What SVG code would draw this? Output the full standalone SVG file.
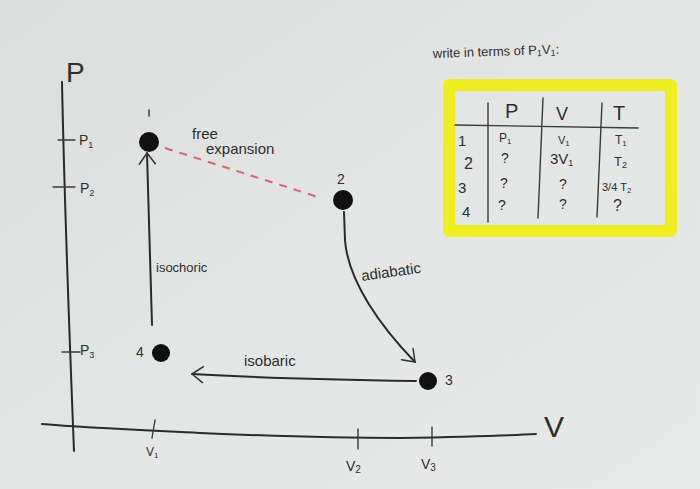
<svg xmlns="http://www.w3.org/2000/svg" width="700" height="489" viewBox="0 0 700 489">
<defs>
<linearGradient id="bg" x1="0" y1="0" x2="1" y2="1">
<stop offset="0" stop-color="#dcdedd"/>
<stop offset="0.5" stop-color="#e4e6e5"/>
<stop offset="1" stop-color="#e8eae9"/>
</linearGradient>
<marker id="chev" markerUnits="userSpaceOnUse" markerWidth="14" markerHeight="20" refX="12" refY="9" orient="auto" overflow="visible">
<path d="M1,1 L12,9 L1,17" fill="none" stroke="#333" stroke-width="1.5" stroke-linecap="round" stroke-linejoin="round"/>
</marker>
</defs>
<style>
.ink{fill:none;stroke:#2a2a2a;stroke-width:2;stroke-linecap:round;stroke-linejoin:round}
.thin{fill:none;stroke:#3a3a3a;stroke-width:1.4;stroke-linecap:round}
.t{font-family:"Liberation Sans","DejaVu Sans",sans-serif;fill:#2e2e2e}
.dot{fill:#111}
</style>
<rect width="700" height="489" fill="url(#bg)"/>

<g id="axes">
<path class="ink" d="M62,82 C64,180 68,300 74,451" stroke-width="2.6"/>
<path class="ink" d="M42,424 C90,428 140,430 200,433 C270,436 330,438 400,438 C450,437 500,436 536,434" stroke-width="2.6"/>
<text class="t" x="66" y="82" font-size="28">P</text>
<text class="t" x="544" y="437" font-size="30">V</text>
<path class="thin" d="M58,140 L75,140"/>
<text class="t" x="79" y="145" font-size="14">P<tspan font-size="9" dy="3">1</tspan></text>
<path class="thin" d="M53,187 L75,187"/>
<text class="t" x="80" y="193" font-size="14">P<tspan font-size="9" dy="3">2</tspan></text>
<path class="thin" d="M62,352 L80,352"/>
<text class="t" x="80" y="355" font-size="14">P<tspan font-size="9" dy="3">3</tspan></text>
<path class="thin" d="M155,420 L152,438"/>
<text class="t" x="146" y="456" font-size="12">V<tspan font-size="8" dy="2">1</tspan></text>
<path class="thin" d="M358,429 L358,449"/>
<text class="t" x="346" y="471" font-size="14">V<tspan font-size="10" dy="2">2</tspan></text>
<path class="thin" d="M432,427 L432,446"/>
<text class="t" x="421" y="469" font-size="14">V<tspan font-size="10" dy="2">3</tspan></text>
</g>

<g id="connectors">
<path class="ink" d="M152,325 L147,153" stroke-width="1.5" marker-end="url(#chev)"/>
<path d="M165,148 L321,198" fill="none" stroke="#d8646c" stroke-width="2" stroke-dasharray="8,7"/>
<path class="ink" d="M344,212 L345,240 C348,282 382,328 415,362" stroke-width="1.5" marker-end="url(#chev)"/>
<path class="ink" d="M416,381 C350,380 260,378 192,374" stroke-width="1.5" marker-end="url(#chev)"/>
<text class="t" x="192" y="139" font-size="15">free</text>
<text class="t" x="206" y="154" font-size="15">expansion</text>
<text class="t" x="156" y="272" font-size="13">isochoric</text>
<text class="t" x="362" y="281" font-size="15" transform="rotate(-8 362 281)">adiabatic</text>
<text class="t" x="244" y="366" font-size="15">isobaric</text>
</g>

<g id="point1">
<circle class="dot" cx="149" cy="142" r="10"/>
<path class="thin" d="M149,110 L149,116"/>
</g>
<g id="point2">
<circle class="dot" cx="343" cy="200" r="10"/>
<text class="t" x="337" y="184" font-size="14">2</text>
</g>
<g id="point3">
<circle class="dot" cx="428" cy="381" r="9"/>
<text class="t" x="445" y="385" font-size="14">3</text>
</g>
<g id="point4">
<circle class="dot" cx="161" cy="353" r="9"/>
<text class="t" x="136" y="357" font-size="14">4</text>
</g>

<g id="table">
<text class="t" x="433" y="58" font-size="13" transform="rotate(-2 433 58)">write in terms of P<tspan font-size="9" dy="2">1</tspan><tspan dy="-2">V</tspan><tspan font-size="9" dy="2">1</tspan><tspan dy="-2">:</tspan></text>
<rect x="449" y="85" width="222" height="146" fill="none" stroke="#eeee22" stroke-width="12" stroke-linejoin="round"/>
<path class="thin" d="M455,125 L638,128"/>
<path class="thin" d="M488,103 L488,222"/>
<path class="thin" d="M543,98 L538,218"/>
<path class="thin" d="M602,103 L597,217"/>
<text class="t" x="505" y="118" font-size="20">P</text>
<text class="t" x="556" y="120" font-size="18">V</text>
<text class="t" x="613" y="120" font-size="20">T</text>
<text class="t" x="458" y="146" font-size="15">1</text>
<text class="t" x="464" y="169" font-size="16">2</text>
<text class="t" x="458" y="193" font-size="15">3</text>
<text class="t" x="462" y="217" font-size="15">4</text>
<text class="t" x="499" y="142" font-size="12">P<tspan font-size="8" dy="2">1</tspan></text>
<text class="t" x="558" y="144" font-size="11">V<tspan font-size="8" dy="2">1</tspan></text>
<text class="t" x="615" y="144" font-size="12">T<tspan font-size="8" dy="2">1</tspan></text>
<text class="t" x="501" y="163" font-size="14">?</text>
<text class="t" x="550" y="164" font-size="15">3V<tspan font-size="9" dy="2">1</tspan></text>
<text class="t" x="614" y="166" font-size="13">T<tspan font-size="9" dy="2">2</tspan></text>
<text class="t" x="500" y="188" font-size="14">?</text>
<text class="t" x="559" y="189" font-size="14">?</text>
<text class="t" x="602" y="191" font-size="11">3/4 T<tspan font-size="8" dy="2">2</tspan></text>
<text class="t" x="498" y="210" font-size="14">?</text>
<text class="t" x="559" y="209" font-size="14">?</text>
<text class="t" x="613" y="211" font-size="16">?</text>
</g>
</svg>
